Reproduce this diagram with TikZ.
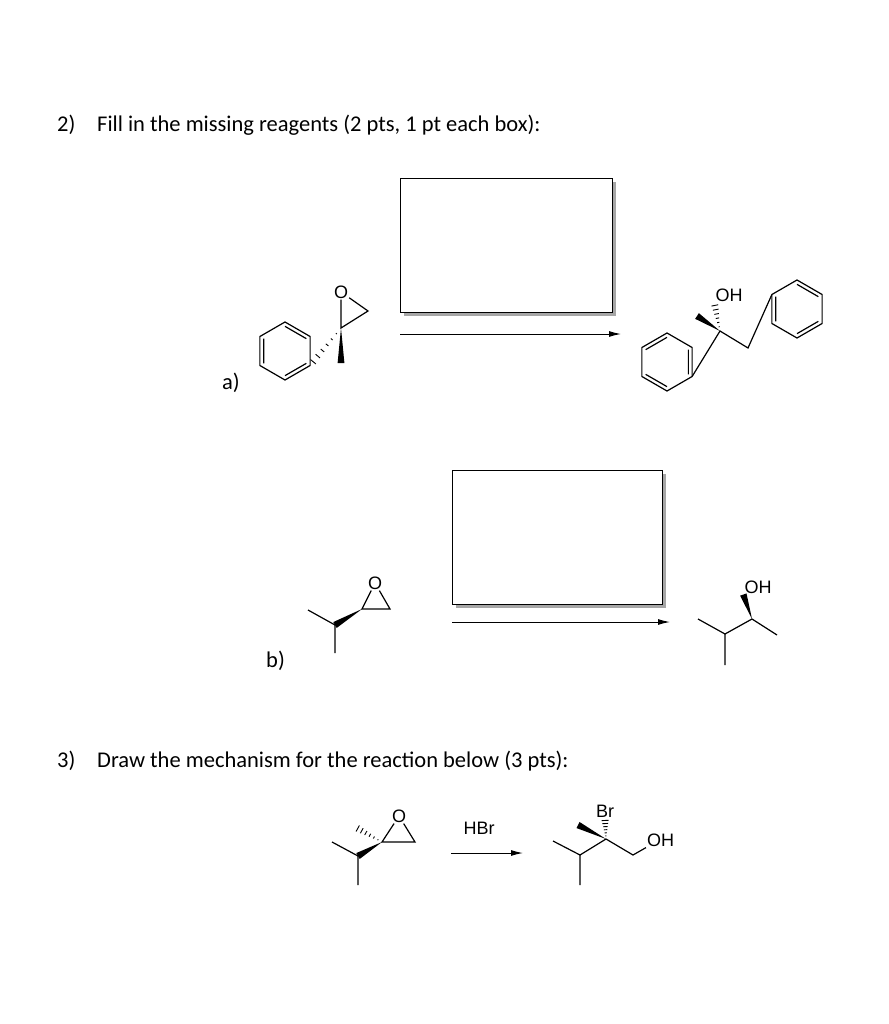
\documentclass[tikz,border=0pt]{standalone}
\usepackage{fontspec}
\setmainfont{Carlito}
\newfontfamily\lab{Liberation Sans}
\usetikzlibrary{calc,arrows.meta}
\newcommand\hashbond[2]{\foreach \t in {0.15,0.3,...,0.95}{\pgfmathsetmacro\hw{3.8*\t}\draw[line width=0.9pt] ($(#1)!\t!(#2)!\hw pt!90:(#1)$) -- ($(#1)!\t!(#2)!\hw pt!-90:(#1)$);}}
\newcommand\wedgebond[2]{\fill (#1) -- ($(#2)!3.4pt!90:(#1)$) -- ($(#2)!3.4pt!-90:(#1)$) -- cycle;}
\tikzset{bond/.style={line width=1.2pt},
 atom/.style={font=\lab\fontsize{18}{18}\selectfont, inner sep=1pt},
 head/.style={font=\fontsize{22.5}{26}\selectfont, anchor=base west, inner sep=0},
 rbox/.style={draw=black, line width=1.1pt, fill=white},
 rarrow/.style={line width=1pt, -{Latex[length=12pt,width=6pt]}}}
\begin{document}
\begin{tikzpicture}[x=1pt,y=-1pt]
\useasboundingbox (0,0) rectangle (888,1024);
\node[head] (h2n) at (57,132) {2)};
\node[head] (h2) at (97,132) {Fill in the missing reagents (2 pts, 1 pt each box):};
\node[head] (h3n) at (57,767) {3)};
\node[head] (h3) at (97,767) {Draw the mechanism for the reaction below (3 pts):};
\node[head] (la) at (222,389) {a)};
\node[head] (lb) at (266,667) {b)};
% boxes
\fill[gray!70] (404,182) rectangle (616,316);
\node[rbox, minimum width=212pt, minimum height=134pt, anchor=north west, inner sep=0] (boxa) at (400,178) {};
\fill[gray!70] (456,474) rectangle (666,608);
\node[rbox, minimum width=210pt, minimum height=134pt, anchor=north west, inner sep=0] (boxb) at (452,470) {};
% arrows
\coordinate (a1) at (400,334); \coordinate (a2) at (621,334);
\draw[rarrow] (a1) -- (a2);
\coordinate (b1) at (452,622); \coordinate (b2) at (670,622);
\draw[rarrow] (b1) -- (b2);
\coordinate (c1) at (451,853); \coordinate (c2) at (523,853);
\draw[rarrow] (c1) -- (c2);
\node[atom] (hbr) at (479,828) {HBr};
% ---- a reactant
\node[atom] (Oa) at (341,292) {O};
\coordinate (Ca) at (341,328); \coordinate (CH2a) at (368,311); \coordinate (Mea) at (341,363);
\draw[bond] (Oa) -- (Ca) -- (CH2a) -- (Oa);
\wedgebond{Ca}{Mea}
\foreach \i/\a in {1/90,2/30,3/-30,4/-90,5/-150,6/150}{\coordinate (pa\i) at ($(285,351)+(\a:29)$);}
\hashbond{Ca}{pa2}
\draw[bond] (pa1)--(pa2)--(pa3)--(pa4)--(pa5)--(pa6)--cycle;
\draw[bond] ($(pa1)!.15!(285,351)$) -- ($(pa2)!.15!(285,351)$) ($(pa3)!.15!(285,351)$) -- ($(pa4)!.15!(285,351)$) ($(pa5)!.15!(285,351)$) -- ($(pa6)!.15!(285,351)$);
% ---- a product
\coordinate (Cp) at (720,331); \node[atom] (OHp) at (729,295) {OH};
\coordinate (Mep) at (697,316); \coordinate (CH2p) at (748,348);
\hashbond{Cp}{OHp.south west}
\wedgebond{Cp}{Mep}
\foreach \i/\a in {1/90,2/30,3/-30,4/-90,5/-150,6/150}{\coordinate (pb\i) at ($(667,362)+(\a:29)$);\coordinate (pc\i) at ($(797,309)+(\a:29)$);}
\draw[bond] (pb2) -- (Cp) -- (CH2p) -- (pc5);
\draw[bond] (pb1)--(pb2)--(pb3)--(pb4)--(pb5)--(pb6)--cycle;
\draw[bond] ($(pb2)!.15!(667,362)$) -- ($(pb3)!.15!(667,362)$) ($(pb4)!.15!(667,362)$) -- ($(pb5)!.15!(667,362)$) ($(pb6)!.15!(667,362)$) -- ($(pb1)!.15!(667,362)$);
\draw[bond] (pc1)--(pc2)--(pc3)--(pc4)--(pc5)--(pc6)--cycle;
\draw[bond] ($(pc1)!.15!(797,309)$) -- ($(pc2)!.15!(797,309)$) ($(pc3)!.15!(797,309)$) -- ($(pc4)!.15!(797,309)$) ($(pc5)!.15!(797,309)$) -- ($(pc6)!.15!(797,309)$);
% ---- b reactant
\node[atom] (Ob) at (375,583) {O};
\coordinate (C1b) at (362,609); \coordinate (C2b) at (390,609); \coordinate (CHb) at (335,625);
\coordinate (Meb1) at (308,610); \coordinate (Meb2) at (335,653);
\draw[bond] (Ob) -- (C1b) -- (C2b) -- (Ob);
\wedgebond{C1b}{CHb}
\draw[bond] (Meb1) -- (CHb) -- (Meb2);
% ---- b product
\coordinate (Cbp) at (752,619); \node[atom] (OHb) at (758,587) {OH};
\coordinate (Rb) at (777,635); \coordinate (CHbp) at (725,634); \coordinate (Lb) at (698,619); \coordinate (Db) at (725,665);
\wedgebond{Cbp}{OHb.south west}
\draw[bond] (Rb) -- (Cbp) -- (CHbp) -- (Lb) (CHbp) -- (Db);
% ---- 3 reactant
\node[atom] (Oc) at (399,816) {O};
\coordinate (Cqc) at (382,842); \coordinate (CH2c) at (415,842); \coordinate (Mec) at (355,827);
\coordinate (CHc) at (358,856); \coordinate (Lc) at (332,842); \coordinate (Dc) at (358,885);
\draw[bond] (Oc) -- (Cqc) -- (CH2c) -- (Oc);
\hashbond{Cqc}{Mec}
\wedgebond{Cqc}{CHc}
\draw[bond] (Lc) -- (CHc) -- (Dc);
% ---- 3 product
\coordinate (Cqd) at (606,839); \node[atom] (Brd) at (605,811) {Br};
\coordinate (Med) at (578,825); \coordinate (CHd) at (580,855); \coordinate (Ld) at (553,841); \coordinate (Dd) at (580,885);
\coordinate (CH2d) at (633,855); \node[atom, anchor=west] (OHd) at (646,840) {OH};
\hashbond{Cqd}{Brd.south}
\wedgebond{Cqd}{Med}
\draw[bond] (Ld) -- (CHd) -- (Dd) (CHd) -- (Cqd) -- (CH2d) -- (OHd.south west);
\end{tikzpicture}
\end{document}
